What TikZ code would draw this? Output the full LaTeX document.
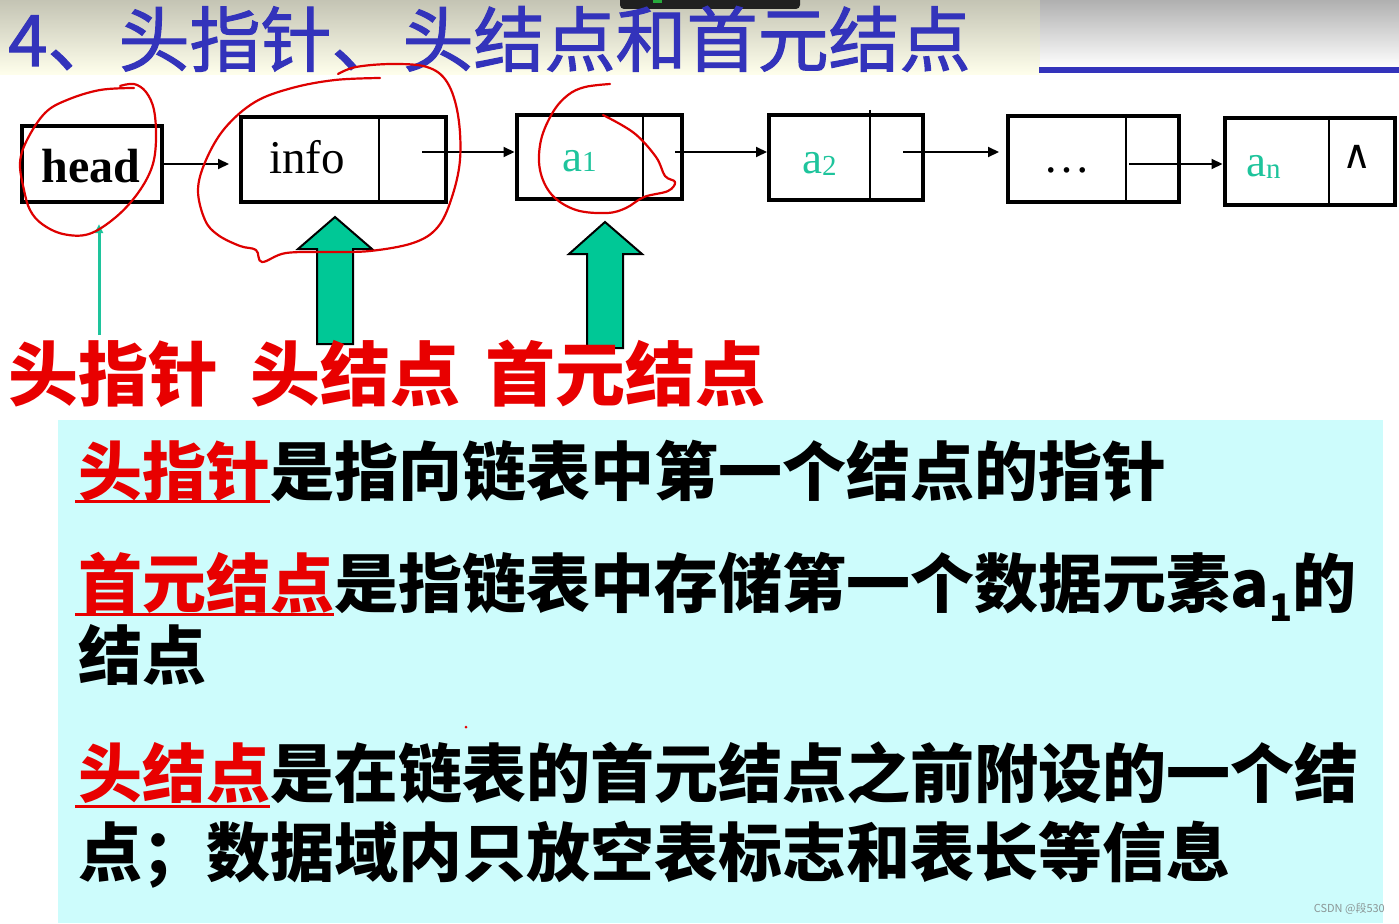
\documentclass[tikz,border=0pt]{standalone}
\usepackage{fontspec}
\usepackage{graphicx}
\setmainfont{Liberation Serif}
\newfontfamily\cjk{Noto Sans CJK SC}
\newfontfamily\cjkt[FakeBold=1.5]{Noto Sans CJK SC}
\newfontfamily\symf{DejaVu Sans}
\usetikzlibrary{arrows.meta}
\definecolor{tblue}{RGB}{51,51,187}
\definecolor{tred}{RGB}{232,0,0}
\definecolor{pen}{RGB}{222,0,0}
\definecolor{tealtxt}{RGB}{30,196,156}
\definecolor{blockg}{RGB}{0,200,150}
\definecolor{cyanbg}{RGB}{205,252,252}
\definecolor{bandtop}{RGB}{196,196,180}
\definecolor{bandbot}{RGB}{255,255,236}
\definecolor{graytop}{RGB}{176,176,176}
\definecolor{darkbar}{RGB}{32,32,32}
\definecolor{greenmark}{RGB}{40,170,60}
\definecolor{wmgray}{RGB}{140,150,150}
\newcommand\bodyfont{\cjk\bfseries\fontsize{64}{64}\selectfont}
\begin{document}
\begin{tikzpicture}[x=1pt,y=-1pt,
  cell/.style={draw=black,line width=4pt,inner sep=0pt,fill=white},
  divider/.style={draw=black,line width=2pt},
  ptr/.style={draw=black,line width=2pt,-{Triangle[length=11pt,width=10pt]}},
  loop/.style={draw=pen,line width=2.2pt,line join=round,line cap=round},
  blockarrow/.style={draw=black,line width=2pt,fill=blockg,line join=miter},
  nodetxt/.style={inner sep=0pt,anchor=base,font=\fontsize{47}{47}\selectfont},
  datatxt/.style={inner sep=0pt,anchor=base west,text=tealtxt,font=\fontsize{45}{45}\selectfont},
  redtxt/.style={inner sep=0pt,anchor=base west,text=tred,font=\bodyfont},
  blacktxt/.style={inner sep=0pt,anchor=base west,text=black,font=\bodyfont},
  uline/.style={draw=tred,line width=3pt}]
\useasboundingbox (0,0) rectangle (1399,923);
\fill[white] (0,0) rectangle (1399,923);
% title band
\shade[top color=bandtop,bottom color=bandbot] (0,0) rectangle (1040,75);
\shade[top color=graytop,bottom color=white] (1040,0) rectangle (1399,68);
\fill[tblue] (1039,67) rectangle (1399,73);
\fill[darkbar,rounded corners=4pt] (620,-6) rectangle (800,9);
\fill[greenmark] (653,0) rectangle (662,3);
\node[inner sep=0pt,anchor=base west,text=tblue,font=\cjkt\fontsize{71}{71}\selectfont] (title) at (8,66) {4、头指针、头结点和首元结点};
% cyan panel
\fill[cyanbg] (58,420) rectangle (1383,923);
% list cells
\node[cell,minimum width=140pt,minimum height=75pt] (head) at (92,164) {};
\node[cell,minimum width=205pt,minimum height=85pt] (info) at (343.5,159.5) {};
\node[cell,minimum width=165pt,minimum height=84pt] (a1) at (599,157) {};
\node[cell,minimum width=154pt,minimum height=85pt] (a2) at (846,157.5) {};
\node[cell,minimum width=171pt,minimum height=86pt] (dots) at (1093.5,159) {};
\node[cell,minimum width=170pt,minimum height=87pt] (an) at (1309.5,161.5) {};
\coordinate (d1) at (379,0);
\coordinate (d2) at (643,0);
\coordinate (d3) at (870,0);
\coordinate (d4) at (1126,0);
\coordinate (d5) at (1329,0);
\draw[divider] (info.north -| d1) -- (info.south -| d1);
\draw[divider] (a1.north -| d2) -- (a1.south -| d2);
\draw[divider] ([yshift=3pt]a2.north -| d3) -- (a2.south -| d3);
\draw[divider] (dots.north -| d4) -- (dots.south -| d4);
\draw[divider] (an.north -| d5) -- (an.south -| d5);
% texts in cells
\node[nodetxt,font=\bfseries\fontsize{48}{48}\selectfont] (headt) at (91,182) {head};
\node[nodetxt] (infot) at (307,173) {info};
\node[datatxt] (a1t) at (562,171) {a{\fontsize{29}{29}\selectfont 1}};
\node[datatxt] (a2t) at (802,173) {a{\fontsize{29}{29}\selectfont\raisebox{-2pt}{2}}};
\node[datatxt] (ant) at (1246,176) {a{\fontsize{29}{29}\selectfont\raisebox{-2pt}{n}}};
\node[nodetxt] (dotst) at (1067,172) {…};
\node[inner sep=0pt,font=\symf\fontsize{40}{40}\selectfont] (nil) at (1357,157) {∧};
% pointers
\coordinate (p0) at (162,164);
\coordinate (q0) at (229,164);
\coordinate (p1) at (422,152);
\coordinate (p2) at (675,152);
\coordinate (p3) at (903,152);
\coordinate (q3) at (999,152);
\coordinate (p4) at (1129,164);
\draw[ptr] (p0) -- (q0);
\draw[ptr] (p1) -- (p1 -| a1.west);
\draw[ptr] (p2) -- (p2 -| a2.west);
\draw[ptr] (p3) -- (q3);
\draw[ptr] (p4) -- (p4 -| an.west);
% thin teal arrow to head
\coordinate (hp) at (99,335);
\coordinate (hq) at (99,224);
\draw[draw=tealtxt,line width=3pt,-{Triangle[length=9pt,width=8pt]}] (hp) -- (hq);
% block arrows
\draw[blockarrow] (335,217) -- (372,249) -- (353,249) -- (353,344) -- (317,344) -- (317,249) -- (298,249) -- cycle;
\draw[blockarrow] (605,222) -- (642,254) -- (623,254) -- (623,348) -- (587,348) -- (587,254) -- (569,254) -- cycle;
% hand-drawn loops
\draw[loop] plot[smooth,tension=0.6] coordinates {(134,88) (100,90) (67,100) (45,113) (27,140) (20,163) (24,190) (30,210) (42,224) (63,234) (89,234) (116,217) (138,193) (152,167) (156,140) (154,110) (146,92) (134,84) (120,86)};
\draw[loop] plot[smooth,tension=0.6] coordinates {(380,78) (335,80) (292,88) (255,102) (225,128) (206,160) (198,190) (205,220) (218,235) (240,246) (256,250) (262,262) (286,253) (330,252) (370,251) (413,243) (437,228) (451,200) (460,160) (458,115) (447,82) (427,67) (392,64) (356,67) (338,74)};
\draw[loop] plot[smooth,tension=0.6] coordinates {(610,84) (585,87) (568,95) (553,112) (541,140) (540,170) (552,195) (576,210) (607,213) (626,208) (644,197) (668,191) (675,182) (665,176) (656,157) (634,133) (603,115)};
% labels under the list
\node[inner sep=0pt,anchor=base west,text=tred,font=\cjk\bfseries\fontsize{70}{70}\selectfont] (lbl1) at (8,400) {头指针};
\node[inner sep=0pt,anchor=base west,text=tred,font=\cjk\bfseries\fontsize{70}{70}\selectfont] (lbl2) at (250,400) {头结点};
\node[inner sep=0pt,anchor=base west,text=tred,font=\cjk\bfseries\fontsize{70}{70}\selectfont] (lbl3) at (485,400) {首元结点};
% definitions
\node[redtxt] (r1) at (78,495) {头指针};
\node[blacktxt,anchor=base west] (b1) at (r1.base east) {是指向链表中第一个结点的指针};
\draw[uline] ([yshift=-6pt]r1.base west) ++(-3,0) -- ([yshift=-6pt]r1.base east);
\node[redtxt] (r2) at (78,607) {首元结点};
\node[blacktxt] (b2) at (r2.base east) {是指链表中存储第一个数据元素a{\fontsize{38}{38}\selectfont\raisebox{-14pt}{1}}的};
\draw[uline] ([yshift=-7pt]r2.base west) ++(-3,0) -- ([yshift=-7pt]r2.base east);
\node[blacktxt] (b3) at (78,679) {结点};
\node[redtxt] (r4) at (78,797) {头结点};
\node[blacktxt] (b4) at (r4.base east) {是在链表的首元结点之前附设的一个结};
\draw[uline] ([yshift=-9pt]r4.base west) ++(-3,0) -- ([yshift=-9pt]r4.base east);
\node[blacktxt] (b5) at (78,876) {点；数据域内只放空表标志和表长等信息};
\fill[tred] (466,727) circle (1.5pt);
\node[inner sep=0pt,anchor=base east,text=wmgray,font=\cjk\fontsize{11}{11}\selectfont] (wm) at (1385,912) {CSDN @段530};
\end{tikzpicture}
\end{document}
